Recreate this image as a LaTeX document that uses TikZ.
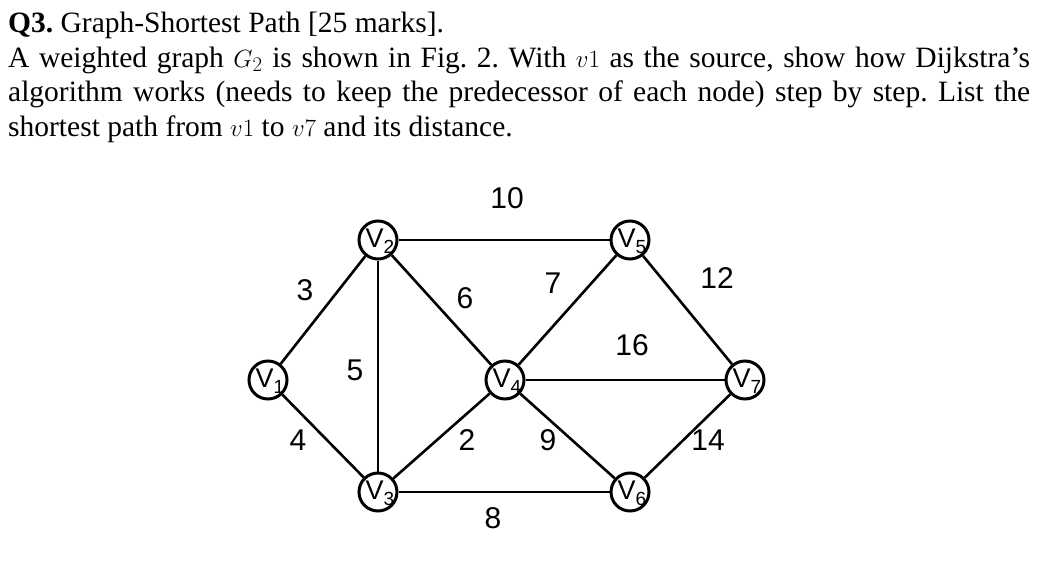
\documentclass[tikz,border=0pt]{standalone}
\usepackage{fontspec}
\setmainfont{Liberation Serif}
\newfontfamily\lsans{Liberation Sans}
\frenchspacing
\begin{document}
\begin{tikzpicture}[x=1pt,y=-1pt,
  vx/.style={circle,draw,line width=3pt,minimum size=38pt,inner sep=0pt},
  vl/.style={font=\lsans\fontsize{27}{27}\selectfont,inner sep=0pt},
  ew/.style={font=\lsans\fontsize{30}{30}\selectfont,inner sep=0pt},
  ed/.style={line width=2.6pt},
  tx/.style={anchor=base west,inner sep=0pt,font=\fontsize{29.5}{32}\selectfont}]
\useasboundingbox (0,0) rectangle (1042,562);
\node[tx] (l1) at (8,32) {\textbf{Q3.} Graph-Shortest Path [25 marks].};
\node[tx] (l2) at (8,67) {\makebox[1022pt][s]{A weighted graph $G_2$ is shown in Fig. 2. With $v1$ as the source, show how Dijkstra's}};
\node[tx] (l3) at (8,101) {\makebox[1022pt][s]{algorithm works (needs to keep the predecessor of each node) step by step. List the}};
\node[tx] (l4) at (8,136) {shortest path from $v1$ to $v7$ and its distance.};
\foreach \n/\x/\y in {1/268/380,2/378/240,3/378/492,4/505/380,5/630/240,6/630/492,7/745/380}{
  \node[vx] (v\n) at (\x,\y) {};
  \node[vl] (t\n) at (\x+2,\y+1) {V\raisebox{-6pt}{\fontsize{19}{19}\selectfont\n}};
}
\draw[ed] (v1)--(v2); \draw[ed] (v1)--(v3); \draw[ed] (v2)--(v3);
\draw[ed] (v2)--(v5); \draw[ed] (v2)--(v4); \draw[ed] (v3)--(v4);
\draw[ed] (v3)--(v6); \draw[ed] (v4)--(v5); \draw[ed] (v4)--(v6);
\draw[ed] (v4)--(v7); \draw[ed] (v5)--(v7); \draw[ed] (v6)--(v7);
\node[ew] (w10) at (507,198) {10};
\node[ew] (w3) at (305,290) {3};
\node[ew] (w6) at (465,298) {6};
\node[ew] (w7) at (553,283) {7};
\node[ew] (w12) at (717,278) {12};
\node[ew] (w16) at (632,345) {16};
\node[ew] (w5) at (355,370) {5};
\node[ew] (w4) at (298,440) {4};
\node[ew] (w2) at (467,440) {2};
\node[ew] (w9) at (548,440) {9};
\node[ew] (w14) at (708,440) {14};
\node[ew] (w8) at (493,518) {8};
\end{tikzpicture}
\end{document}
